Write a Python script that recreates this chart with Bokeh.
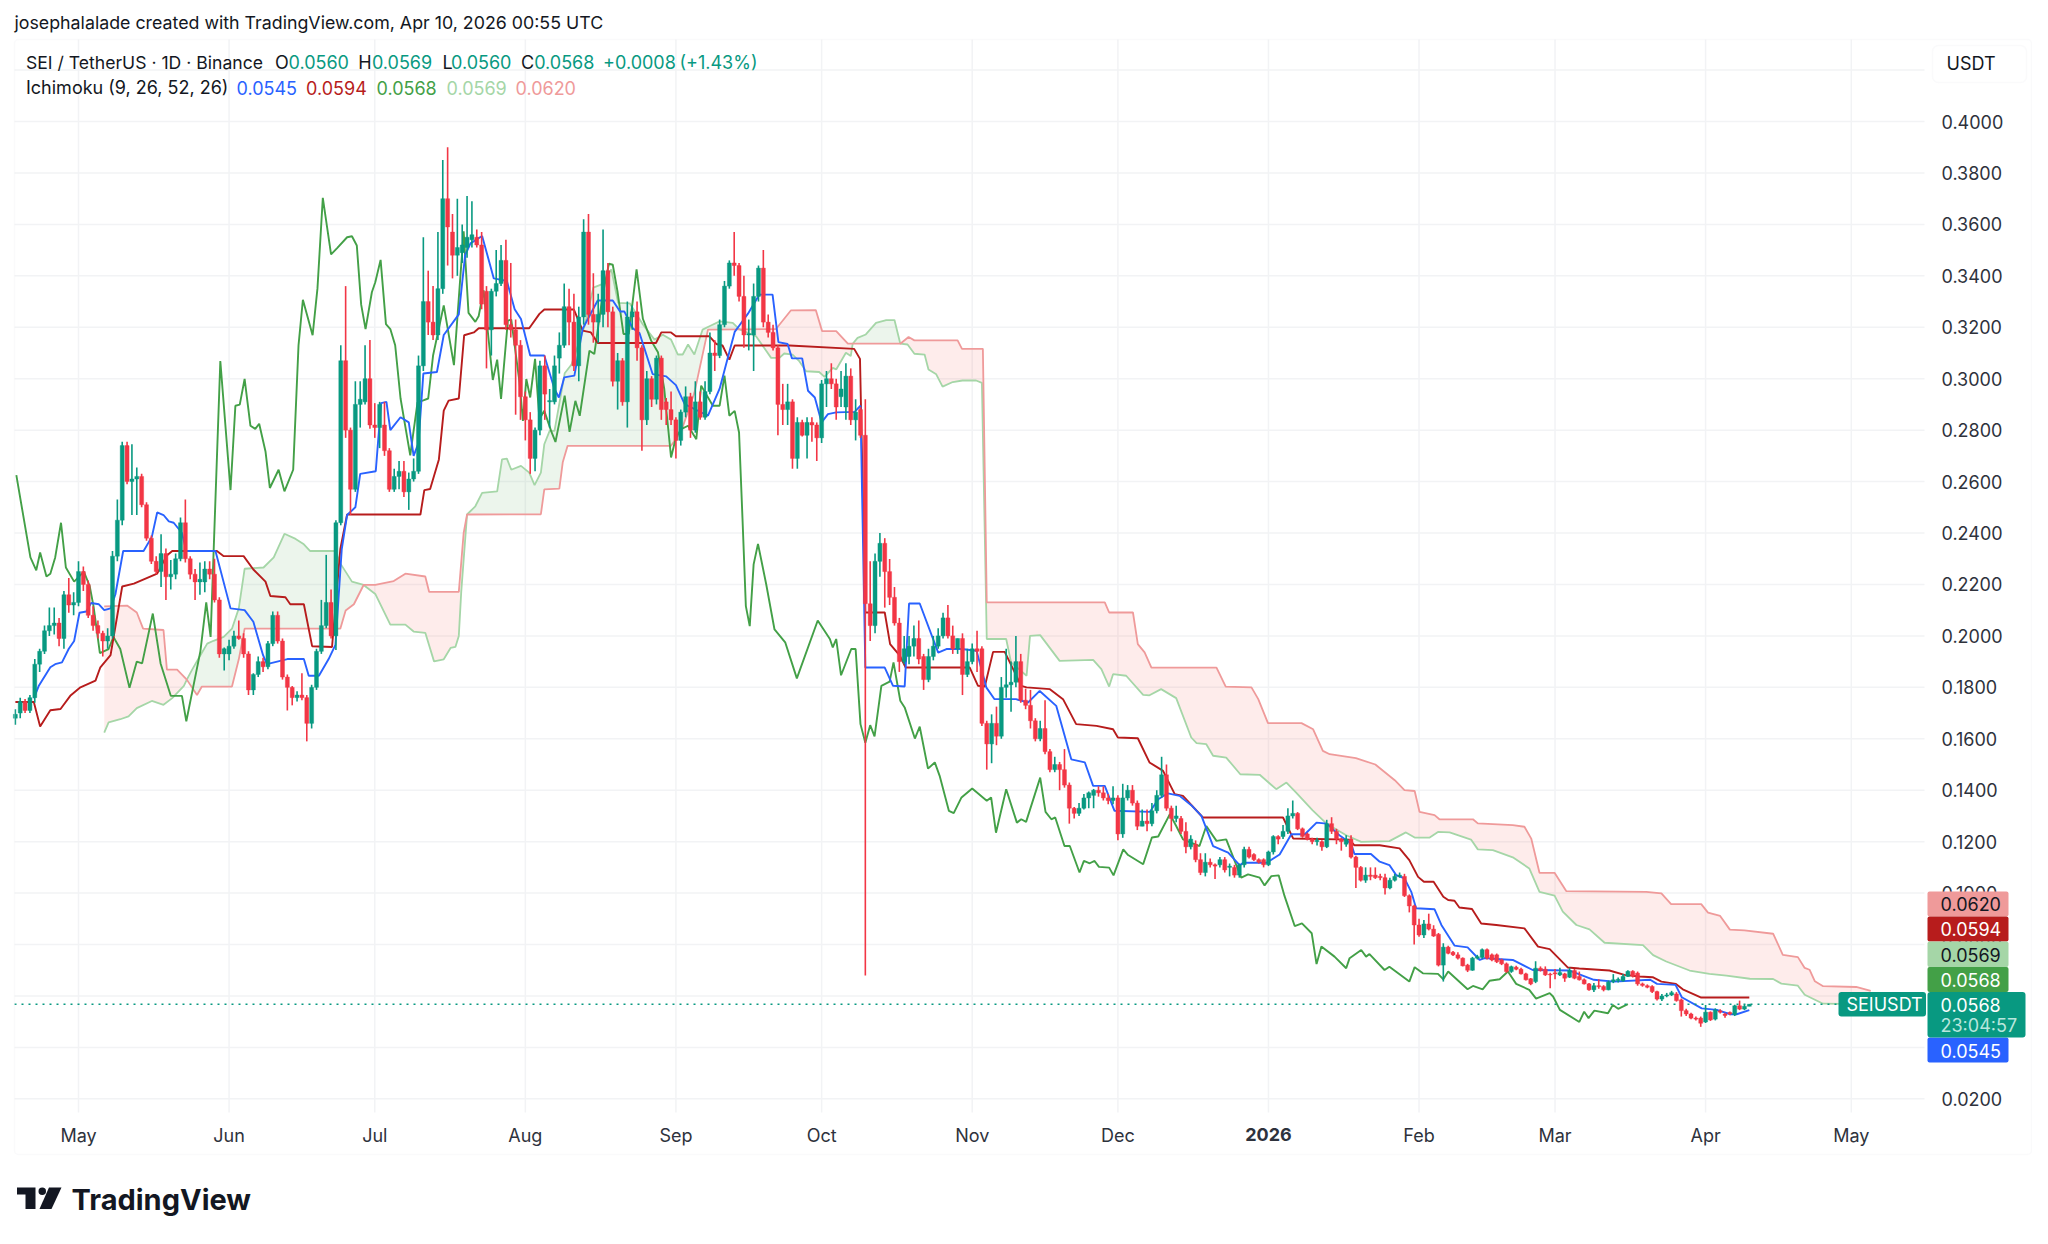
from bokeh.plotting import figure
from bokeh.embed import file_html
from bokeh.resources import INLINE
from bokeh.models import (BoxAnnotation, ColumnDataSource, FixedTicker, Label,
                          NumeralTickFormatter, PolyAnnotation, Range1d)

# bar 0 is Apr 18 2025, one bar per day
opens = [
    .1680, .1700, .1745, .1710, .1760, .1890, .1940, .2020, .2040, .2050,
    .1990, .2160, .2120, .2130, .2250, .2200, .2080, .2040, .2010, .1980,
    .2000, .2310, .2450, .2740, .2600, .2610, .2620, .2510, .2380, .2290,
    .2250, .2320, .2230, .2240, .2300, .2440, .2300, .2240, .2210, .2210,
    .2260, .2240, .2140, .1930, .1930, .1960, .2000, .1990, .1930, .1790,
    .1850, .1900, .1880, .1970, .2080, .1980, .1840, .1800, .1760, .1770,
    .1760, .1660, .1800, .1940, .2040, .2130, .2000, .2440, .3070, .2800,
    .2570, .2900, .2910, .3000, .2820, .2810, .2820, .2720, .2570, .2620,
    .2640, .2560, .2610, .2640, .3050, .3300, .3220, .3170, .3350, .3700,
    .3570, .3480, .3490, .3510, .3540, .3550, .3520, .3340, .3190, .3340,
    .3370, .3460, .3210, .3190, .3130, .2930, .2840, .2690, .2800, .3050,
    .2910, .2910, .3080, .3130, .3280, .3220, .3050, .3240, .3570, .3250,
    .3220, .3250, .3420, .3260, .2990, .3070, .2910, .3240, .3260, .3120,
    .2840, .3000, .2920, .3080, .2910, .2880, .2840, .2760, .2870, .2930,
    .2800, .2910, .2850, .2950, .3100, .3090, .3210, .3360, .3450, .3440,
    .3320, .3170, .3170, .3320, .3430, .3220, .3180, .3120, .2900, .2880,
    .2910, .2690, .2830, .2780, .2830, .2820, .2770, .2980, .3000, .2980,
    .2930, .2890, .3010, .2840, .2880, .2780, .2125, .2040, .2290, .2360,
    .2250, .2150, .2050, .1900, .1920, .1960, .1990, .1920, .1830, .1920,
    .1960, .2000, .2070, .2000, .1950, .1990, .1850, .1900, .1950, .1950,
    .1660, .1580, .1660, .1610, .1800, .1810, .1820, .1900, .1750, .1730,
    .1670, .1600, .1640, .1550, .1480, .1500, .1480, .1420, .1330, .1310,
    .1330, .1370, .1380, .1400, .1390, .1370, .1360, .1370, .1230, .1370,
    .1400, .1350, .1260, .1280, .1270, .1320, .1380, .1460, .1330, .1290,
    .1290, .1240, .1180, .1190, .1130, .1080, .1120, .1110, .1110, .1130,
    .1100, .1100, .1070, .1110, .1170, .1150, .1130, .1130, .1110, .1160,
    .1220, .1220, .1240, .1300, .1310, .1250, .1230, .1210, .1200, .1200,
    .1180, .1270, .1240, .1210, .1190, .1210, .1140, .1100, .1050, .1070,
    .1070, .1065, .1060, .1020, .1050, .1065, .1065, .0990, .0950, .0876,
    .0837, .0880, .0860, .0840, .0720, .0790, .0770, .0760, .0747, .0720,
    .0700, .0747, .0750, .0780, .0760, .0760, .0740, .0725, .0695, .0712,
    .0704, .0686, .0667, .0656, .0708, .0704, .0685, .0690, .0682, .0686,
    .0673, .0699, .0676, .0663, .0647, .0624, .0640, .0637, .0624, .0656,
    .0660, .0659, .0676, .0696, .0689, .0647, .0640, .0637, .0617, .0588,
    .0600, .0604, .0608, .0585, .0543, .0530, .0514, .0514, .0499, .0537,
    .0510, .0542, .0530, .0536, .0527, .0562, .0549, .0560,
]
closes = [
    .1695, .1745, .1710, .1760, .1890, .1940, .2020, .2040, .2050, .1990,
    .2160, .2120, .2130, .2250, .2200, .2080, .2040, .2010, .1980, .2000,
    .2310, .2450, .2740, .2600, .2610, .2620, .2510, .2380, .2290, .2250,
    .2320, .2230, .2240, .2300, .2440, .2300, .2240, .2210, .2220, .2260,
    .2240, .2140, .1930, .1950, .1960, .2000, .1990, .1930, .1790, .1850,
    .1900, .1880, .1970, .2080, .1980, .1840, .1800, .1760, .1770, .1760,
    .1660, .1800, .1940, .2040, .2130, .2000, .2440, .3070, .2800, .2570,
    .2900, .2920, .3000, .2820, .2810, .2900, .2720, .2570, .2620, .2640,
    .2560, .2610, .2640, .3050, .3300, .3220, .3170, .3350, .3700, .3590,
    .3480, .3510, .3520, .3550, .3560, .3520, .3290, .3190, .3340, .3370,
    .3460, .3210, .3190, .3130, .2930, .2840, .2690, .2800, .3050, .2940,
    .2915, .3050, .3130, .3280, .3220, .3050, .3240, .3570, .3250, .3220,
    .3250, .3420, .3260, .2990, .3070, .2910, .3240, .3260, .3120, .2840,
    .3000, .2920, .3080, .2880, .2880, .2840, .2760, .2870, .2930, .2800,
    .2910, .2850, .2950, .3100, .3090, .3210, .3360, .3450, .3440, .3320,
    .3170, .3175, .3320, .3430, .3220, .3180, .3120, .2900, .2880, .2910,
    .2690, .2830, .2780, .2830, .2820, .2770, .2980, .3000, .2980, .2890,
    .2960, .3010, .2840, .2870, .2780, .2125, .2040, .2290, .2360, .2250,
    .2150, .2050, .1900, .1950, .1960, .1990, .1910, .1830, .1920, .1960,
    .2000, .2070, .2000, .1950, .1990, .1850, .1900, .1950, .1940, .1660,
    .1580, .1660, .1610, .1800, .1810, .1820, .1900, .1750, .1730, .1670,
    .1600, .1640, .1550, .1480, .1500, .1480, .1420, .1330, .1310, .1330,
    .1370, .1390, .1400, .1390, .1370, .1360, .1370, .1230, .1370, .1400,
    .1350, .1260, .1280, .1270, .1320, .1380, .1460, .1330, .1290, .1300,
    .1240, .1180, .1210, .1130, .1080, .1120, .1110, .1105, .1130, .1090,
    .1105, .1070, .1110, .1170, .1140, .1130, .1120, .1110, .1160, .1220,
    .1210, .1240, .1300, .1310, .1250, .1220, .1210, .1200, .1205, .1180,
    .1270, .1240, .1210, .1200, .1210, .1140, .1100, .1050, .1070, .1065,
    .1060, .1060, .1020, .1050, .1065, .1070, .0990, .0950, .0876, .0837,
    .0880, .0860, .0833, .0720, .0790, .0766, .0760, .0747, .0717, .0700,
    .0747, .0753, .0780, .0747, .0740, .0733, .0725, .0695, .0714, .0704,
    .0686, .0663, .0647, .0708, .0699, .0682, .0682, .0686, .0691, .0669,
    .0699, .0669, .0663, .0647, .0624, .0640, .0636, .0624, .0654, .0663,
    .0665, .0676, .0696, .0678, .0647, .0641, .0634, .0617, .0588, .0600,
    .0604, .0613, .0582, .0543, .0530, .0514, .0510, .0494, .0537, .0507,
    .0546, .0537, .0524, .0530, .0562, .0549, .0560, .0568,
]
highs = [
    .1715, .1760, .1755, .1770, .1910, .1950, .2040, .2110, .2110, .2070,
    .2175, .2225, .2170, .2290, .2270, .2215, .2115, .2060, .2020, .2030,
    .2330, .2530, .2755, .2755, .2745, .2655, .2630, .2520, .2390, .2310,
    .2395, .2340, .2295, .2320, .2460, .2530, .2310, .2260, .2285, .2290,
    .2290, .2300, .2150, .1955, .1985, .2020, .2060, .2010, .1940, .1855,
    .1920, .1915, .1980, .2095, .2095, .1990, .1850, .1805, .1785, .1855,
    .1770, .1810, .1950, .2140, .2315, .2180, .2450, .3130, .3360, .2810,
    .2990, .2990, .3130, .3150, .2905, .2910, .2910, .2730, .2650, .2680,
    .2680, .2635, .2690, .3090, .3550, .3420, .3360, .3570, .3850, .3900,
    .3640, .3700, .3600, .3710, .3690, .3580, .3570, .3360, .3350, .3500,
    .3520, .3540, .3450, .3230, .3150, .2950, .2870, .2810, .3070, .3090,
    .2960, .3090, .3180, .3370, .3350, .3330, .3280, .3620, .3640, .3410,
    .3330, .3580, .3450, .3280, .3100, .3080, .3300, .3285, .3300, .3130,
    .3030, .3010, .3090, .3090, .2925, .2950, .2850, .2880, .2970, .2945,
    .2990, .2950, .2990, .3180, .3150, .3230, .3380, .3460, .3570, .3450,
    .3400, .3230, .3370, .3440, .3500, .3250, .3210, .3130, .2980, .2980,
    .2920, .2850, .2840, .2850, .2850, .2830, .2995, .3030, .3060, .3000,
    .3030, .3060, .3040, .2920, .2890, .2920, .2290, .2320, .2400, .2380,
    .2299, .2190, .2070, .2000, .2000, .2040, .2060, .1930, .1950, .2000,
    .2030, .2090, .2120, .2040, .1990, .2010, .1950, .1970, .2020, .1960,
    .1670, .1695, .1725, .1840, .1950, .1900, .2000, .1930, .1795, .1790,
    .1680, .1670, .1750, .1560, .1530, .1510, .1560, .1430, .1335, .1350,
    .1385, .1395, .1405, .1415, .1415, .1385, .1415, .1380, .1425, .1420,
    .1420, .1360, .1325, .1325, .1350, .1400, .1530, .1500, .1340, .1340,
    .1300, .1275, .1225, .1205, .1155, .1155, .1135, .1115, .1140, .1140,
    .1115, .1110, .1115, .1180, .1180, .1155, .1135, .1135, .1165, .1225,
    .1225, .1265, .1330, .1360, .1315, .1255, .1235, .1215, .1215, .1205,
    .1285, .1295, .1250, .1215, .1225, .1225, .1145, .1105, .1100, .1100,
    .1100, .1075, .1075, .1060, .1075, .1080, .1075, .0995, .0955, .0900,
    .0895, .0920, .0875, .0845, .0805, .0795, .0775, .0770, .0750, .0725,
    .0752, .0760, .0785, .0785, .0765, .0765, .0745, .0730, .0718, .0718,
    .0710, .0690, .0670, .0735, .0715, .0715, .0690, .0705, .0710, .0690,
    .0710, .0705, .0695, .0668, .0650, .0650, .0665, .0642, .0660, .0685,
    .0672, .0685, .0700, .0700, .0695, .0652, .0645, .0642, .0620, .0608,
    .0612, .0620, .0615, .0590, .0550, .0535, .0520, .0520, .0565, .0540,
    .0552, .0548, .0535, .0540, .0566, .0582, .0565, .0569,
]
lows = [
    .1655, .1680, .1700, .1700, .1740, .1860, .1930, .2000, .2005, .1960,
    .1950, .2090, .2080, .2115, .2175, .2070, .2020, .1990, .1920, .1950,
    .1990, .2290, .2430, .2590, .2470, .2470, .2500, .2370, .2280, .2240,
    .2190, .2140, .2180, .2220, .2290, .2285, .2220, .2140, .2160, .2170,
    .2220, .2130, .1915, .1865, .1905, .1950, .1985, .1915, .1770, .1770,
    .1840, .1860, .1870, .1960, .1970, .1830, .1710, .1730, .1745, .1750,
    .1590, .1640, .1790, .1930, .2030, .1990, .1945, .2430, .2770, .2470,
    .2560, .2810, .2900, .2805, .2770, .2730, .2700, .2560, .2560, .2570,
    .2540, .2490, .2600, .2630, .3030, .3170, .3150, .3150, .3330, .3440,
    .3390, .3400, .3450, .3470, .3510, .3510, .3270, .3040, .3090, .3320,
    .3360, .3190, .3160, .2860, .2840, .2760, .2630, .2640, .2780, .2840,
    .2810, .2900, .3020, .3120, .3130, .3030, .2990, .3210, .3210, .3140,
    .3140, .3200, .3200, .2970, .2880, .2895, .2810, .3190, .3070, .2720,
    .2820, .2890, .2900, .2840, .2820, .2820, .2690, .2740, .2850, .2770,
    .2790, .2840, .2840, .2940, .3030, .3080, .3200, .3350, .3400, .3300,
    .3120, .3110, .3030, .3300, .3200, .3160, .3110, .2780, .2820, .2820,
    .2650, .2650, .2775, .2690, .2755, .2680, .2750, .2890, .2960, .2840,
    .2890, .2840, .2820, .2760, .2770, .0680, .1980, .2010, .2230, .2110,
    .2120, .2040, .1860, .1890, .1890, .1920, .1890, .1790, .1820, .1905,
    .1950, .1990, .1990, .1930, .1930, .1770, .1840, .1890, .1860, .1650,
    .1480, .1505, .1575, .1600, .1760, .1705, .1800, .1740, .1715, .1640,
    .1590, .1590, .1540, .1470, .1470, .1400, .1410, .1270, .1290, .1300,
    .1325, .1330, .1330, .1375, .1360, .1345, .1345, .1205, .1215, .1360,
    .1340, .1245, .1260, .1240, .1260, .1310, .1370, .1320, .1240, .1275,
    .1230, .1155, .1170, .1120, .1070, .1065, .1100, .1055, .1100, .1080,
    .1065, .1060, .1060, .1100, .1135, .1125, .1115, .1100, .1105, .1150,
    .1190, .1210, .1230, .1290, .1245, .1215, .1205, .1190, .1185, .1165,
    .1175, .1230, .1190, .1165, .1180, .1135, .1020, .1045, .1040, .1050,
    .1055, .1050, .0995, .1015, .1045, .1060, .0985, .0925, .0800, .0830,
    .0825, .0855, .0830, .0715, .0656, .0762, .0755, .0742, .0715, .0693,
    .0698, .0742, .0745, .0742, .0735, .0728, .0720, .0690, .0690, .0700,
    .0684, .0660, .0642, .0650, .0695, .0678, .0630, .0665, .0678, .0655,
    .0670, .0665, .0660, .0645, .0620, .0615, .0628, .0618, .0622, .0650,
    .0652, .0655, .0674, .0672, .0640, .0636, .0630, .0612, .0582, .0580,
    .0595, .0600, .0578, .0520, .0522, .0510, .0505, .0480, .0495, .0503,
    .0505, .0532, .0515, .0525, .0522, .0545, .0545, .0560,
]

tenkan_days = [3.8, 4.8, 7.2, 8.2, 9.6, 11, 12.1, 13.2, 14.6, 15.6, 17.2, 18.3, 19.6, 20.6, 22.2, 26.4, 28.1, 29.2, 30.5,
               31.6, 32.6, 34.3, 35.2, 41.2, 44.3, 47.2, 49, 51, 51.8, 56, 59.4, 60.4, 62.5, 64.5, 65.9, 67.2, 68.3, 70,
               71, 74.2, 75.3, 76.4, 77.2, 79.3, 81, 82, 83, 84, 86.8, 88.2, 91.3, 92.6, 93.7, 96.1, 98.5, 101.2, 102.8,
               104.1, 106, 108.9, 111, 111.9, 113, 115.1, 116.8, 119.9, 123, 124.5, 125.4, 127.1, 128.5, 131.2, 134,
               136, 137.8, 142.6, 145, 147, 148.1, 149.1, 150.8, 153.2, 155.9, 157.1, 159, 159.9, 162, 163.2, 164.6,
               166, 167.3, 169, 172.8, 174, 175, 179, 180.7, 183.1, 184, 186.2, 190, 191.7, 194.8, 197.9, 199.9, 201.6,
               206, 208.5, 210.9, 214.3, 217.4, 220.2, 221.9, 224.3, 226.3, 233.6, 235.3, 237.3, 239.7, 242.1, 244.2,
               246.6, 249.7, 252.1, 252.8, 257.6, 260.3, 262.7, 265.5, 267.9, 270, 272.6, 275, 275.7, 279.1, 280.9,
               282.9, 284.3, 286, 287.4, 288.4, 292.2, 293.6, 296.3, 299, 301.5, 302.5, 308.3, 312.4, 320, 325, 329.1,
               336.6, 338, 341.8, 343.1, 347.2, 350.3, 353.1, 354.4, 357]
tenkan = [.1757, .1805, .1878, .1890, .1897, .1950, .1980, .2090, .2095, .2128, .2123, .2100, .2107, .2162, .2330, .2330,
          .2385, .2480, .2470, .2445, .2440, .2400, .2330, .2330, .2107, .2100, .2055, .1925, .1890, .1910, .1910,
          .1845, .1845, .1910, .1965, .2337, .2470, .2500, .2630, .2640, .2905, .2910, .2800, .2850, .2830, .2700,
          .2750, .3020, .3026, .3170, .3250, .3480, .3526, .3555, .3390, .3380, .3270, .3232, .3090, .3090, .2960,
          .2927, .3005, .3012, .3194, .3304, .3304, .3261, .3261, .3196, .3178, .3018, .3009, .2975, .2901, .2856,
          .2961, .3104, .3182, .3208, .3252, .3327, .3327, .3142, .3135, .3079, .3079, .2953, .2927, .2830, .2862,
          .2869, .2871, .2895, .1877, .1877, .1806, .1803, .2126, .2126, .1935, .1949, .1949, .1942, .1800, .1754,
          .1754, .1741, .1786, .1728, .1520, .1508, .1417, .1417, .1320, .1316, .1365, .1388, .1378, .1342, .1300,
          .1183, .1157, .1108, .1118, .1118, .1150, .1229, .1229, .1274, .1270, .1225, .1193, .1152, .1152, .1122,
          .1109, .1070, .1057, .1005, .0941, .0937, .0876, .0796, .0789, .0740, .0747, .0740, .0701, .0699, .0663,
          .0656, .0663, .0647, .0643, .0595, .0552, .0546, .0529, .0529, .0545]

kijun_days = [0, 3.8, 5.1, 7.2, 9.3, 11.3, 13.4, 16.5, 17.5, 19.6, 22, 24.4, 29.2, 31.2, 32.3, 41.5, 42.9, 47, 49, 51.5,
              52.5, 55.6, 56.6, 59.4, 61.1, 65.2, 66.9, 68.3, 83.4, 84.2, 85.4, 87.2, 88.2, 89.2, 91.3, 92.4, 94.4, 95.4,
              103.6, 105.8, 107.9, 108.9, 115, 116.8, 118.5, 119.9, 131.9, 133, 135, 136, 142.9, 144.3, 145.6, 147,
              148.1, 159.4, 172.7, 173.9, 174.2, 175, 179, 180.1, 182.1, 183.3, 196.5, 198.2, 199.6, 201.3, 203.7, 207.1,
              208.2, 213, 215.7, 218.4, 222.6, 226, 227, 231.1, 233.5, 236.3, 238.7, 240.4, 244.5, 261, 263.1, 274.7,
              275.7, 280.9, 285, 287, 288.8, 290, 292, 294, 295, 296.3, 297.3, 299.9, 301.8, 304.9, 310.7, 313.5, 315.9,
              319.6, 322, 328.2, 331.3, 334.4, 337.1, 338.9, 341.9, 343.3, 347.1, 357]
kijun = [.1743, .1743, .1648, .1711, .1716, .1767, .1800, .1826, .1878, .1925, .2192, .2203, .2242, .2313, .2330, .2330,
         .2310, .2310, .2258, .2211, .2155, .2150, .2123, .2123, .1960, .1957, .2337, .2472, .2472, .2567, .2571, .2686,
         .2876, .2915, .2923, .3169, .3180, .3196, .3196, .3196, .3252, .3269, .3269, .3187, .3180, .3139, .3139, .3180,
         .3180, .3165, .3165, .3135, .3129, .3074, .3129, .3129, .3116, .3077, .2805, .2091, .2091, .1968, .1923, .1877,
         .1877, .1806, .1803, .1938, .1938, .1806, .1800, .1793, .1754, .1657, .1650, .1637, .1605, .1602, .1508, .1475,
         .1385, .1378, .1294, .1294, .1212, .1208, .1186, .1186, .1174, .1128, .1063, .1044, .1044, .0986, .0973, .0970,
         .0944, .0938, .0882, .0876, .0863, .0792, .0782, .0711, .0707, .0699, .0682, .0676, .0673, .0656, .0647, .0626,
         .0594, .0594]

chikou_days = [0.2, 3.1, 4.3, 5.1, 6.4, 7.2, 8.2, 9.4, 10.4, 12.1, 14.1, 15.3, 16.1, 17.4, 19.2, 20.2, 21.6, 23.5, 25, 26.1,
               28.3, 29.9, 32, 34.3, 35.2, 38.1, 39.3, 40.2, 42.2, 44.3, 45.3, 46.2, 47.2, 48.4, 49.4, 50.2, 51.5, 52.4,
               54.2, 55.4, 57.2, 58.3, 59.2, 61.2, 62.2, 63.3, 65, 66.2, 68.3, 69.3, 70.3, 71.2, 72.1, 73.4, 74.1, 75.2,
               76.3, 77.2, 78.2, 79.3, 81.3, 82.8, 84, 85, 86, 88.2, 90.3, 92.3, 93.3, 94.7, 95.4, 96.4, 98.3, 99.2, 100,
               101.4, 102.1, 103.8, 104.5, 105.2, 106, 107, 107.9, 108.9, 110.3, 111.2, 113.1, 114.1, 115.3, 116.2, 118.2,
               119.2, 120.9, 122.2, 123, 124, 125.2, 126.3, 127.9, 129.2, 130.9, 132.3, 133.6, 135, 136, 137.1, 138.5,
               140.2, 141.2, 143.6, 145, 146, 147, 148.1, 149, 149.7, 150.4, 151.2, 152, 152.9, 154.6, 156.3, 158.5, 160.9,
               165.2, 167.7, 168.3, 169, 170, 172.1, 173, 174, 175, 176, 176.9, 178.3, 180, 180.8, 182.2, 183.1, 185.2,
               186.2, 187.9, 189.3, 190.3, 192.2, 193.2, 194.8, 197, 200, 200.9, 201.9, 204, 206.2, 207.1, 208.1, 211,
               212.1, 213.3, 214.1, 216, 217.1, 219.1, 220, 221.2, 222.2, 223.1, 225.2, 226.1, 228.1, 229.1, 232.2, 234,
               235.3, 237.7, 239, 240.4, 243.8, 245.2, 247.3, 249.3, 252.4, 253.8, 256.2, 257.2, 258.6, 260.1, 261.3,
               263.4, 264.9, 266.9, 267.9, 268.9, 271.6, 274, 274.7, 277.1, 278.1, 278.8, 281.9, 282.9, 287, 288.1, 289.8,
               292.9, 294, 295, 299, 300.1, 302.1, 303.5, 305.6, 307.3, 309, 311.7, 313.1, 315.9, 316.6, 318, 322, 323,
               323.9, 325.1, 327.9, 328.9, 330, 332]
chikou = [.2625, .2305, .2255, .2324, .2231, .2242, .2305, .2440, .2266, .2211, .2250, .2194, .2115, .1933, .1949, .1996,
          .1949, .1798, .1900, .1893, .2087, .1893, .1767, .1767, .1668, .1941, .2130, .1996, .3069, .2567, .2895, .2899,
          .2999, .2817, .2805, .2825, .2717, .2575, .2646, .2562, .2646, .3130, .3307, .3169, .3351, .3703, .3483, .3507,
          .3550, .3554, .3518, .3288, .3193, .3336, .3375, .3462, .3212, .3193, .3130, .2924, .2702, .2908, .2916, .2923,
          .3090, .3285, .3053, .3573, .3256, .3221, .3244, .3344, .2995, .3074, .2921, .3226, .3230, .2986, .2836, .2999,
          .2927, .3077, .2843, .2875, .2797, .2754, .2934, .2793, .2914, .2856, .3109, .3096, .3323, .3447, .3443, .3336,
          .3174, .3174, .3425, .3233, .3148, .3103, .2960, .2694, .2771, .2804, .2817, .2765, .2973, .2895, .2895, .3012,
          .2856, .2875, .2791, .2460, .2116, .2038, .2278, .2358, .2200, .2025, .1975, .1835, .2060, .1988, .1955, .1988,
          .1847, .1949, .1949, .1657, .1585, .1653, .1609, .1806, .1822, .1897, .1748, .1722, .1601, .1647, .1484, .1508,
          .1456, .1320, .1311, .1372, .1407, .1359, .1372, .1235, .1404, .1274, .1287, .1277, .1449, .1316, .1287, .1294,
          .1183, .1183, .1080, .1125, .1116, .1125, .1102, .1099, .1069, .1170, .1148, .1112, .1216, .1220, .1307, .1261,
          .1209, .1183, .1261, .1203, .1209, .1060, .1073, .1060, .1030, .1066, .1069, .0989, .0872, .0882, .0844, .0724,
          .0792, .0753, .0708, .0747, .0779, .0753, .0763, .0701, .0714, .0656, .0712, .0688, .0686, .0665, .0695, .0626,
          .0639, .0626, .0659, .0665, .0695, .0647, .0624, .0590, .0611, .0598, .0546, .0499, .0539, .0514, .0543, .0533,
          .0565, .0550, .0568]

span_a_days = [18.3, 19.2, 21.6, 23.3, 25, 28.1, 30.5, 32.3, 34.7, 35.3, 36.4, 38.1, 39.5, 40.8, 42.9, 44.6, 46, 47.2, 51.1,
               53.2, 55.4, 57.7, 59.4, 60.7, 65.9, 66.9, 69.3, 71.7, 74.1, 77.2, 80.3, 82, 84.4, 86.2, 88.2, 89.6, 90.6,
               91.3, 91.8, 93, 94.7, 96.1, 99.2, 100.2, 101.2, 102.1, 104.1, 105.8, 106.9, 108.2, 108.9, 110, 111, 113.1,
               114.5, 117.2, 119, 120.7, 122.7, 124.1, 126.5, 129.2, 131.6, 133.3, 135, 136.4, 137.4, 138.5, 139.8, 141.5,
               142.9, 145, 147.7, 149.1, 152.5, 155.6, 157.3, 158.3, 160, 161.4, 162.8, 165.5, 166.6, 168.3, 169, 171, 172,
               172.4, 173.4, 175.1, 177.2, 179.3, 181, 182.2, 183.7, 185.1, 187.2, 188, 189.6, 190.9, 193, 195, 197.8, 199,
               200, 204, 205, 208.2, 208.9, 211, 215, 221.9, 223.6, 225.2, 226, 228.7, 232.2, 233.5, 235.9, 239, 242.1,
               243.2, 245.2, 246.6, 249.3, 252.2, 256.2, 259.6, 261.7, 263.7, 267.1, 269.9, 274, 277.1, 282.9, 286.3, 288.1,
               291.2, 292.9, 295.3, 299.7, 301.1, 304.2, 308.3, 311.7, 313.8, 316.9, 318.6, 321.4, 324.1, 327.2, 335.1,
               337.2, 339.9, 344.7, 348.8, 352.3, 357.1, 361.9, 363.6, 367, 368.4, 372.2, 375.6, 382]
span_a = [.1624, .1664, .1676, .1687, .1719, .1747, .1732, .1758, .1806, .1830, .1869, .1925, .1970, .1981, .1996, .2028,
          .2107, .2261, .2266, .2305, .2397, .2377, .2356, .2330, .2330, .2282, .2211, .2198, .2163, .2044, .2044, .2017,
          .2012, .1901, .1909, .1953, .1957, .2000, .2171, .2472, .2504, .2556, .2562, .2686, .2689, .2646, .2661, .2635,
          .2586, .2635, .2745, .2797, .2797, .3021, .3055, .3205, .3354, .3367, .3425, .3295, .3293, .3211, .3152, .3171,
          .3152, .3094, .3094, .3133, .3094, .3191, .3204, .3223, .3217, .3192, .3165, .3081, .3081, .3098, .3094, .3068,
          .3029, .3026, .3007, .3042, .3036, .3101, .3088, .3136, .3159, .3172, .3217, .3228, .3228, .3136, .3133, .3097,
          .3094, .3036, .3017, .2969, .2987, .2993, .2993, .2984, .1988, .1988, .1897, .1845, .2000, .2003, .1903, .1907,
          .1871, .1803, .1851, .1845, .1771, .1769, .1793, .1758, .1605, .1583, .1579, .1534, .1527, .1462, .1460, .1404,
          .1430, .1391, .1322, .1271, .1225, .1199, .1202, .1236, .1216, .1216, .1238, .1236, .1208, .1170, .1167, .1139,
          .1096, .1005, .0990, .0928, .0876, .0859, .0807, .0798, .0759, .0734, .0699, .0686, .0679, .0667, .0666, .0648,
          .0640, .0605, .0570, .0569, .0569]

span_b_days = [18.3, 23, 25, 26.3, 30.5, 31.2, 33.3, 35.3, 37.4, 38.4, 44.6, 46, 47.2, 66.9, 68, 69.7, 71.7, 74.1, 77.9, 80.3,
               84.4, 85.2, 91.3, 92.3, 93, 108.2, 108.9, 112, 112.7, 113.7, 135, 137.1, 139.8, 142.6, 149.1, 156.6, 159.7,
               164.8, 166.1, 169, 171.4, 172.4, 182.2, 183.9, 185.1, 194, 194.9, 199.2, 200, 224.3, 225.2, 230.1, 231.1,
               232.5, 233.9, 247.3, 249.2, 254.5, 255.9, 257.9, 264.8, 267.2, 269.2, 270.6, 276, 280, 284, 286, 288.1, 289.1,
               292.2, 293.2, 300.1, 301.1, 308.3, 310.7, 312.1, 313.8, 316.9, 319.3, 335.8, 338.9, 340.9, 347.1, 348.5, 351,
               353, 356, 361.9, 363.9, 367, 368.4, 369.4, 370.5, 372.2, 379, 382]
span_b = [.2115, .2118, .2091, .2028, .2023, .1869, .1869, .1830, .1770, .1803, .1803, .1909, .2028, .2028, .2099, .2123,
          .2198, .2198, .2213, .2242, .2231, .2171, .2171, .2400, .2472, .2473, .2570, .2573, .2675, .2739, .2739, .2796,
          .2945, .3191, .3192, .3193, .3266, .3267, .3185, .3185, .3136, .3136, .3136, .3162, .3149, .3149, .3116, .3116,
          .2130, .2130, .2091, .2091, .1968, .1936, .1877, .1877, .1803, .1800, .1754, .1661, .1661, .1637, .1553, .1540,
          .1525, .1500, .1439, .1400, .1397, .1316, .1303, .1287, .1287, .1271, .1264, .1258, .1212, .1079, .1079, .1008,
          .1005, .0999, .0957, .0957, .0924, .0911, .0858, .0855, .0842, .0760, .0751, .0709, .0702, .0657, .0638, .0635,
          .0620]

# days where the two spans cross, the cloud changes colour there (starts red)
cloud_breaks = [18.3, 35.3, 71.7, 93, 149.1, 172.4, 182.2, 382]

month_days = [13, 44, 74, 105, 136, 166, 197, 227, 258, 289, 317, 348, 378]
month_labels = ["May", "Jun", "Jul", "Aug", "Sep", "Oct", "Nov", "Dec", "", "Feb", "Mar", "Apr", "May"]
price_ticks = [.02, .04, .06, .08, .10, .12, .14, .16, .18, .20, .22, .24, .26, .28, .30, .32, .34, .36, .38, .40]

UP = "#089981"
DOWN = "#F23645"
BLUE = "#2962FF"
KIJUN = "#B71C1C"
CHIKOU = "#43A047"
SPAN_A = "#A5D6A7"
SPAN_B = "#EF9A9A"
TEXT = "#2E323C"
GRID = "#F2F3F5"
BORDER = "#EEF0F3"
FONT = "Inter"

PX_PER_DAY = 4.857
PX_PER_PRICE = 51.44 / 0.02
ORIGIN = 1  # page position of the canvas corner


def px_x(x):
    return (x - 15.86) / PX_PER_DAY


def px_y(y):
    return 0.4 - (y - 122) / PX_PER_PRICE


# the frame fills the canvas, otherwise annotations get clipped to it;
# axes and grid are then pinned to the chart area
p = figure(width=2032, height=1228, output_backend="svg", toolbar_location=None,
           x_range=Range1d(px_x(ORIGIN), px_x(ORIGIN + 2032)), y_range=Range1d(px_y(ORIGIN + 1228), px_y(ORIGIN)),
           y_axis_location="right", min_border_left=0, min_border_top=0,
           min_border_right=0, min_border_bottom=0, background_fill_color="white", outline_line_color=None)

p.xaxis.ticker = FixedTicker(ticks=month_days)
p.xaxis.major_label_overrides = dict(zip(month_days, month_labels))
p.xaxis.fixed_location = px_y(1113)
p.yaxis.ticker = FixedTicker(ticks=price_ticks)
p.yaxis.formatter = NumeralTickFormatter(format="0.0000")
p.yaxis.fixed_location = px_x(1925)
for ax in (p.xaxis[0], p.yaxis[0]):
    ax.axis_line_color = None
    ax.major_tick_line_color = None
    ax.minor_tick_line_color = None
    ax.major_label_text_font = FONT
    ax.major_label_text_font_size = "18px"
    ax.major_label_text_color = TEXT
p.yaxis.major_label_standoff = 11
p.xaxis.major_label_standoff = 6
p.grid.visible = False

# grid lines stop at the chart area, so they are plain segments
grid_prices = price_ticks + [.42]
p.segment(month_days, [px_y(40)] * len(month_days), month_days, [px_y(1113)] * len(month_days),
          line_color=GRID, line_width=1.5)
p.segment([px_x(15)] * len(grid_prices), grid_prices, [px_x(1925)] * len(grid_prices), grid_prices,
          line_color=GRID, line_width=1.5)

# cloud
cloud_colors = ["#F44336", CHIKOU, "#F44336", CHIKOU, "#F44336", CHIKOU, "#F44336"]
for start, end, fill in zip(cloud_breaks[:-1], cloud_breaks[1:], cloud_colors):
    a_part = [(d, v) for d, v in zip(span_a_days, span_a) if start <= d <= end]
    b_part = [(d, v) for d, v in zip(span_b_days, span_b) if start <= d <= end]
    xs = [d for d, v in a_part] + [d for d, v in reversed(b_part)]
    ys = [v for d, v in a_part] + [v for d, v in reversed(b_part)]
    p.patch(xs, ys, fill_color=fill, fill_alpha=0.1, line_color=None)

p.line(span_a_days, span_a, line_color=SPAN_A, line_width=1.8)
p.line(span_b_days, span_b, line_color=SPAN_B, line_width=1.8)
p.line(chikou_days, chikou, line_color=CHIKOU, line_width=1.9)
p.line(kijun_days, kijun, line_color=KIJUN, line_width=1.9)
p.line(tenkan_days, tenkan, line_color=BLUE, line_width=1.9)

# last price line
p.line([px_x(15), px_x(1925)], [closes[-1], closes[-1]], line_color=UP, line_width=1.5, line_dash=[2, 5])

# candles
days = list(range(len(closes)))
colors = [UP if c >= o else DOWN for o, c in zip(opens, closes)]
candles = ColumnDataSource(dict(day=days, open=opens, high=highs, low=lows, close=closes, color=colors))
p.segment("day", "high", "day", "low", source=candles, line_color="color", line_width=1.6)
p.vbar("day", 0.82, "open", "close", source=candles, fill_color="color", line_color="color", line_width=0.4)


def box(left, top, right, bottom, fill, line=None, radius=0):
    p.add_layout(BoxAnnotation(left=left - ORIGIN, right=right - ORIGIN, top=top - ORIGIN, bottom=bottom - ORIGIN,
                               left_units="canvas", right_units="canvas", top_units="canvas", bottom_units="canvas",
                               fill_color=fill, fill_alpha=1 if fill else 0, line_color=line, line_width=1.5,
                               border_radius=radius, level="overlay"))


def text(x, y, s, color=TEXT, size=18, style="normal", align="left"):
    p.add_layout(Label(x=x - ORIGIN, y=y - ORIGIN, x_units="canvas", y_units="canvas", text=s, text_color=color,
                       text_font=FONT, text_font_size=f"{size}px", text_font_style=style, text_align=align,
                       text_baseline="middle", level="overlay"))


def poly(xs, ys):
    p.add_layout(PolyAnnotation(xs=[v - ORIGIN for v in xs], ys=[v - ORIGIN for v in ys],
                                xs_units="canvas", ys_units="canvas",
                                fill_color="#131722", fill_alpha=1, line_color=None, level="overlay"))


# outer border and currency button
box(15, 40, 2032, 1155, None, BORDER, 4)
box(1933, 46, 2027, 83, "white", BORDER, 6)
text(1947, 64, "USDT", "#131722", 18)

# price tags
box(1928, 892, 2009, 917, SPAN_B, None, 2)
box(1928, 917, 2009, 942, KIJUN, None, 2)
box(1928, 942, 2009, 967.5, SPAN_A, None, 2)
box(1928, 967.5, 2009, 992.5, CHIKOU, None, 2)
box(1928, 1038, 2009, 1063, BLUE, None, 2)
box(1928, 992.5, 2026, 1038, UP, None, 3)
box(1839, 992.5, 1926.5, 1017, UP, None, 3)
text(1941, 904.5, f"{span_b[-1]:.4f}", "#131722")
text(1941, 929.5, f"{kijun[-1]:.4f}", "white")
text(1941, 955, f"{span_a[-1]:.4f}", "#131722")
text(1941, 980, f"{chikou[-1]:.4f}", "white")
text(1941, 1005, f"{closes[-1]:.4f}", "white")
text(1941, 1026, "23:04:57", "#B8E6DD")
text(1941, 1051, f"{tenkan[-1]:.4f}", "white")
text(1847, 1005, "SEIUSDT", "white")

# header and legend
text(15, 23, "josephalalade created with TradingView.com, Apr 10, 2026 00:55 UTC", "#131722", 17.8)
text(26.5, 62.5, "SEI / TetherUS · 1D · Binance", "#131722", 17.6)
for x, s in [(275.5, "O"), (358.7, "H"), (443, "L"), (521.4, "C")]:
    text(x, 62.5, s, "#131722")
for x, s in [(289, f"{opens[-1]:.4f}"), (372.4, f"{highs[-1]:.4f}"), (451.5, f"{lows[-1]:.4f}"),
             (534.7, f"{closes[-1]:.4f}"), (603.6, "+0.0008"), (680, "(+1.43%)")]:
    text(x, 62.5, s, UP)
text(26.5, 88, "Ichimoku (9, 26, 52, 26)", "#131722")
text(237, 88, f"{tenkan[-1]:.4f}", BLUE)
text(306.6, 88, f"{kijun[-1]:.4f}", KIJUN)
text(377, 88, f"{chikou[-1]:.4f}", CHIKOU)
text(447, 88, f"{span_a[-1]:.4f}", SPAN_A)
text(516, 88, f"{span_b[-1]:.4f}", SPAN_B)

# bold year tick, at bar 258 (Jan 1)
text(15.86 + PX_PER_DAY * month_days[8], 1135, "2026", TEXT, 18, "bold", "center")

# logo
poly((17.5, 36, 36, 26, 26, 17.5), (1188, 1188, 1209.5, 1209.5, 1195, 1195))
poly((49.5, 62, 52, 40), (1188, 1188, 1209.5, 1209.5))
box(39, 1188, 46.5, 1195.5, "#131722", None, 4)
text(72, 1200, "TradingView", "#131722", 29, "bold")

open("out.html", "w").write(file_html(p, INLINE))
